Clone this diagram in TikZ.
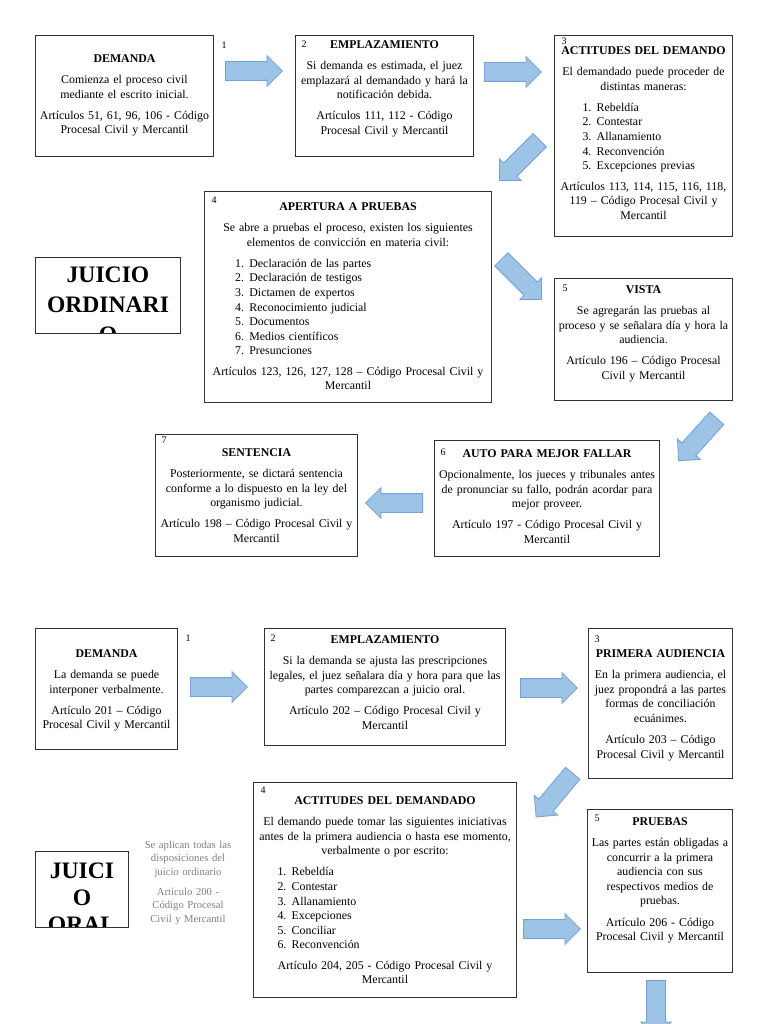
\documentclass[tikz,border=0pt]{standalone}
\usepackage{fontspec}
\setmainfont{Liberation Serif}
\usetikzlibrary{shapes.arrows}
\definecolor{flechaRelleno}{RGB}{157,195,230}
\definecolor{flechaBorde}{RGB}{118,160,210}
\definecolor{nota}{RGB}{128,128,128}
\newcommand{\cuerpo}{\fontsize{8.9pt}{10.9pt}\selectfont}
\newcommand{\lista}[2]{\makebox[\linewidth][l]{\begin{tabular}[t]{@{\hspace{#1}}r@{\hspace{4pt}}l@{}}#2\end{tabular}}}

\begin{document}
\begin{tikzpicture}[x=0.75pt,y=-0.75pt,
	caja/.style={draw=black!80,line width=0.75pt,anchor=north west,align=center,inner xsep=2pt,inner ysep=0pt,font=\cuerpo},
	grande/.style={draw=black!80,line width=0.75pt,anchor=north west,inner sep=0pt},
	flecha/.style={single arrow,anchor=tail,draw=flechaBorde,fill=flechaRelleno,line width=0.6pt,inner xsep=0pt,inner ysep=6.75pt,text height=0pt,text depth=0pt,minimum height=42.75pt,single arrow head extend=4.5pt},
	num/.style={inner sep=0pt,font=\fontsize{7.5pt}{9pt}\selectfont}]
	\path[use as bounding box,fill=white] (0,0) rectangle (768,1024);

	% Juicio ordinario, fila 1
	\node (dem) [caja,text width=129.5pt,text height=20.25pt,text depth=70.5pt] at (35,35) {\textbf{DEMANDA}\\[5pt]Comienza el proceso civil\\mediante el escrito inicial.\\[5pt]Artículos 51, 61, 96, 106 - Código\\Procesal Civil y Mercantil};
	\node (emp) [caja,text width=129.5pt,text height=9.75pt,text depth=81pt] at (295,35) {\textbf{EMPLAZAMIENTO}\\[5pt]Si demanda es estimada, el juez\\emplazará al demandado y hará la\\notificación debida.\\[5pt]Artículos 111, 112 - Código\\Procesal Civil y Mercantil};
	\node (act) [caja,text width=129.5pt,text height=14.25pt,text depth=136.5pt] at (554,35) {\textbf{ACTITUDES DEL DEMANDO}\\[5pt]El demandado puede proceder de\\distintas maneras:\\[5pt]\lista{19pt}{1.&Rebeldía\\2.&Contestar\\3.&Allanamiento\\4.&Reconvención\\5.&Excepciones previas}\\[5pt]Artículos 113, 114, 115, 116, 118,\\119 – Código Procesal Civil y\\Mercantil};
	\node (n1) [num] at (224,45) {1};
	\node (n2) [num] at (304,44) {2};
	\node (n3) [num] at (564,41) {3};
	\node (f12) [flecha] at (225,71) {};
	\node (f23) [flecha] at (484,72) {};
	\node (f34) [flecha,rotate=225] at (540,140) {};

	% Juicio ordinario, fila 2
	\node (jord) [grande,minimum width=108.75pt,minimum height=57pt,path picture={
		\node (jordT) [anchor=north,inner sep=0pt,text width=108.75pt,align=center,text height=18pt,font=\fontsize{17.7pt}{22.5pt}\selectfont\bfseries] at (path picture bounding box.north) {JUICIO\\ORDINARI\\O};}] at (35,257) {};
	\node (ape) [caja,text width=211.25pt,text height=14.25pt,text depth=144pt] at (204,191) {\textbf{APERTURA A PRUEBAS}\\[5pt]Se abre a pruebas el proceso, existen los siguientes\\elementos de convicción en materia civil:\\[5pt]\lista{21pt}{1.&Declaración de las partes\\2.&Declaración de testigos\\3.&Dictamen de expertos\\4.&Reconocimiento judicial\\5.&Documentos\\6.&Medios científicos\\7.&Presunciones}\\[5pt]Artículos 123, 126, 127, 128 – Código Procesal Civil y\\Mercantil};
	\node (vis) [caja,text width=129.5pt,text height=11.25pt,text depth=80.25pt] at (554,278) {\textbf{VISTA}\\[5pt]Se agregarán las pruebas al\\proceso y se señalara día y hora la\\audiencia.\\[5pt]Artículo 196 – Código Procesal\\Civil y Mercantil};
	\node (n4) [num] at (214,200) {4};
	\node (n5) [num] at (565,288) {5};
	\node (f45) [flecha,rotate=-45] at (501,259) {};
	\node (f56) [flecha,rotate=228] at (717,418) {};

	% Juicio ordinario, fila 3
	\node (sen) [caja,text width=147.5pt,text height=16.5pt,text depth=75pt] at (155,434) {\textbf{SENTENCIA}\\[5pt]Posteriormente, se dictará sentencia\\conforme a lo dispuesto en la ley del\\organismo judicial.\\[5pt]Artículo 198 – Código Procesal Civil y\\Mercantil};
	\node (aut) [caja,text width=164.75pt,text height=12.75pt,text depth=74.25pt] at (434,440) {\textbf{AUTO PARA MEJOR FALLAR}\\[5pt]Opcionalmente, los jueces y tribunales antes\\de pronunciar su fallo, podrán acordar para\\mejor proveer.\\[5pt]Artículo 197 - Código Procesal Civil y\\Mercantil};
	\node (n6) [num] at (443,452) {6};
	\node (n7) [num] at (164,440) {7};
	\node (f67) [flecha,rotate=180] at (423,503) {};

	% Juicio oral, fila 1
	\node (demo) [caja,text width=102.5pt,text height=21.75pt,text depth=69pt] at (35,628) {\textbf{DEMANDA}\\[5pt]La demanda se puede\\interponer verbalmente.\\[5pt]Artículo 201 – Código\\Procesal Civil y Mercantil};
	\node (empo) [caja,text width=176.75pt,text height=11.25pt,text depth=76.5pt] at (264,628) {\textbf{EMPLAZAMIENTO}\\[5pt]Si la demanda se ajusta las prescripciones\\legales, el juez señalara día y hora para que las\\partes comparezcan a juicio oral.\\[5pt]Artículo 202 – Código Procesal Civil y\\Mercantil};
	\node (pri) [caja,text width=104pt,text height=21.75pt,text depth=90.75pt] at (588,628) {\textbf{PRIMERA AUDIENCIA}\\[5pt]En la primera audiencia, el\\juez propondrá a las partes\\formas de conciliación\\ecuánimes.\\[5pt]Artículo 203 – Código\\Procesal Civil y Mercantil};
	\node (m1) [num] at (188,638) {1};
	\node (m2) [num] at (273,638) {2};
	\node (m3) [num] at (597,639) {3};
	\node (g12) [flecha] at (190,687) {};
	\node (g23) [flecha] at (520,688) {};
	\node (g34) [flecha,rotate=230] at (573,773) {};

	% Juicio oral, fila 2
	\node (jora) [grande,minimum width=69.75pt,minimum height=57pt,path picture={
		\node (joraT) [anchor=north,inner sep=0pt,text width=69.75pt,align=center,text height=19.5pt,font=\fontsize{17.7pt}{20.25pt}\selectfont\bfseries] at (path picture bounding box.north) {JUICI\\O\\ORAL};}] at (35,851) {};
	\node (nota) [anchor=north,inner sep=0pt,text width=75pt,align=center,text height=6pt,text=nota,font=\fontsize{8pt}{10.1pt}\selectfont] at (188,840) {Se aplican todas las\\disposiciones del\\juicio ordinario\\[5pt]Artículo 200 -\\Código Procesal\\Civil y Mercantil};
	\node (acto) [caja,text width=193.25pt,text height=16.5pt,text depth=144.75pt] at (253,782) {\textbf{ACTITUDES DEL DEMANDADO}\\[5pt]El demando puede tomar las siguientes iniciativas\\antes de la primera audiencia o hasta ese momento,\\verbalmente o por escrito:\\[5pt]\lista{16pt}{1.&Rebeldía\\2.&Contestar\\3.&Allanamiento\\4.&Excepciones\\5.&Conciliar\\6.&Reconvención}\\[5pt]Artículo 204, 205 - Código Procesal Civil y\\Mercantil};
	\node (pru) [caja,text width=104.75pt,text height=12pt,text depth=110.25pt] at (587,809) {\textbf{PRUEBAS}\\[5pt]Las partes están obligadas a\\concurrir a la primera\\audiencia con sus\\respectivos medios de\\pruebas.\\[5pt]Artículo 206 - Código\\Procesal Civil y Mercantil};
	\node (m4) [num] at (263,790) {4};
	\node (m5) [num] at (597,818) {5};
	\node (g45) [flecha] at (523,929) {};
	\node (g56) [flecha,rotate=270] at (656,980) {};
\end{tikzpicture}
\end{document}
